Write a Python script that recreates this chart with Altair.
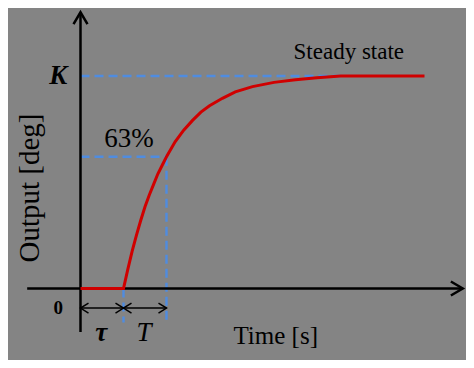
import altair as alt
import pandas as pd

# Response curve (time in units, output as fraction of K)
curve_t = [0.0, 1.0, 1.1, 1.2, 1.3, 1.4, 1.5, 1.6, 1.7, 1.8, 1.9, 2.0, 2.2, 2.4, 2.6, 2.8,
           3.0, 3.3, 3.6, 4.0, 4.5, 5.0, 5.5, 6.05, 8.0]
curve_y = [0.0, 0.0, 0.09, 0.175, 0.25, 0.32, 0.385, 0.44, 0.49, 0.54, 0.58, 0.62, 0.69,
           0.745, 0.79, 0.83, 0.86, 0.895, 0.925, 0.95, 0.97, 0.982, 0.992, 1.0, 1.0]

# Axis lines (x, x2, y, y2)
axis_x = [0.0, -1.24]
axis_x2 = [0.0, 8.89]
axis_y = [-0.205, 0.0]
axis_y2 = [1.30, 0.0]

# Blue dashed guide lines
guide_x = [0.0, 0.0, 1.0, 2.0]
guide_x2 = [6.05, 2.0, 1.0, 2.0]
guide_y = [1.0, 0.62, 0.0, 0.62]
guide_y2 = [1.0, 0.62, -0.16, -0.16]

# Dimension arrows (tau and T)
dim_x = [0.0, 1.0]
dim_x2 = [1.0, 2.0]
dim_y = [-0.092, -0.092]

# Arrow heads: position and direction (degrees, clockwise from pointing right)
head_big_x = [0.0, 8.89]
head_big_y = [1.30, 0.0]
head_big_angle = [270, 0]
head_small_x = [0.0, 1.0, 1.0, 2.0]
head_small_y = [-0.092, -0.092, -0.092, -0.092]
head_small_angle = [180, 0, 180, 0]

# Labels
label_text = ["K", "63%", "Steady state", "0", "τ", "T", "Time [s]", "Output [deg]"]
label_x = [-0.52, 1.13, 6.24, -0.52, 0.48, 1.48, 4.54, -1.17]
label_y = [1.0, 0.705, 1.113, -0.092, -0.21, -0.21, -0.223, 0.473]
label_size = [27, 27, 23, 19, 27, 27, 25, 29]
label_weight = ["bold", "normal", "normal", "bold", "bold", "normal", "normal", "normal"]
label_style = ["italic", "normal", "normal", "normal", "italic", "italic", "normal", "normal"]
label_angle = [0, 0, 0, 0, 0, 0, 0, 270]

FONT = "Liberation Serif"

XDOM = [-1.686, 8.965]
YDOM = [-0.3365, 1.320]
xs = alt.Scale(domain=XDOM, nice=False, zero=False)
ys = alt.Scale(domain=YDOM, nice=False, zero=False)

curve = pd.DataFrame({"t": curve_t, "y": curve_y})
axes = pd.DataFrame({"x": axis_x, "x2": axis_x2, "y": axis_y, "y2": axis_y2})
guides = pd.DataFrame({"x": guide_x, "x2": guide_x2, "y": guide_y, "y2": guide_y2})
dims = pd.DataFrame({"x": dim_x, "x2": dim_x2, "y": dim_y})
hb = pd.DataFrame({"x": head_big_x, "y": head_big_y, "a": head_big_angle})
hs = pd.DataFrame({"x": head_small_x, "y": head_small_y, "a": head_small_angle})

X = lambda f: alt.X(f, type="quantitative", scale=xs, axis=None)
Y = lambda f: alt.Y(f, type="quantitative", scale=ys, axis=None)

axis_layer = alt.Chart(axes).mark_rule(color="black", strokeWidth=2.5).encode(
    x=X("x"), x2="x2", y=Y("y"), y2="y2")
guide_layer = alt.Chart(guides).mark_rule(
    color="#4f8ce0", strokeWidth=2.4, strokeDash=[9, 5]).encode(
    x=X("x"), x2="x2", y=Y("y"), y2="y2")
dim_layer = alt.Chart(dims).mark_rule(color="black", strokeWidth=1.5).encode(
    x=X("x"), x2="x2", y=Y("y"))
curve_layer = alt.Chart(curve).mark_line(color="#d00000", strokeWidth=3).encode(
    x=X("t"), y=Y("y"))
big_heads = alt.Chart(hb).mark_point(
    shape="M -1.7 -1 L 0 0 L -1.7 1", filled=False, color="black",
    strokeWidth=2.5, size=196, opacity=1).encode(
    x=X("x"), y=Y("y"), angle=alt.Angle("a:Q", scale=None))
small_heads = alt.Chart(hs).mark_point(
    shape="M -1.6 -1 L 0 0 L -1.6 1", filled=False, color="black",
    strokeWidth=1.5, size=100, opacity=1).encode(
    x=X("x"), y=Y("y"), angle=alt.Angle("a:Q", scale=None))

text_layers = []
for i, txt in enumerate(label_text):
    df = pd.DataFrame({"x": [label_x[i]], "y": [label_y[i]], "txt": [txt]})
    text_layers.append(
        alt.Chart(df).mark_text(
            font=FONT, fontSize=label_size[i],
            fontWeight=label_weight[i], fontStyle=label_style[i],
            angle=label_angle[i], color="black", align="center",
            baseline="middle").encode(x=X("x"), y=Y("y"), text="txt:N"))

chart = alt.layer(guide_layer, axis_layer, curve_layer, dim_layer,
                  big_heads, small_heads, *text_layers).properties(
    width=458, height=352, autosize=alt.AutoSizeParams(type="none"),
    padding=0, background="#848484"
).configure_view(stroke=None)

chart.save("out.html", embed_options={"renderer": "svg", "actions": False})
